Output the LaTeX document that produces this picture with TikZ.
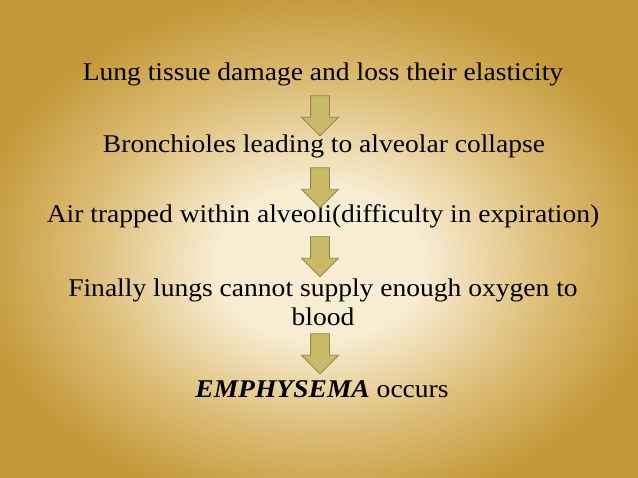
\documentclass[tikz,border=0pt]{standalone}
\usepackage{fontspec}
\setmainfont[FakeStretch=1.08]{Liberation Serif}
\usetikzlibrary{shapes.arrows}
\definecolor{cream}{HTML}{F8EDD3}
\definecolor{midgold}{HTML}{DDBE78}
\definecolor{edgegold}{HTML}{C4993A}
\definecolor{arrowfill}{HTML}{C9BA68}
\definecolor{arrowdraw}{HTML}{8E8A45}
\pgfdeclareradialshading{bgshade}{\pgfpoint{0bp}{-3bp}}{%
  color(0bp)=(cream);
  color(8bp)=(cream);
  color(18bp)=(midgold);
  color(27bp)=(edgegold);
  color(50bp)=(edgegold)}
\tikzset{
  txt/.style={font=\fontsize{25.5}{29}\selectfont, text=black, align=center, inner sep=0pt, anchor=base},
  downarrow/.style={single arrow, shape border rotate=270, fill=arrowfill, draw=arrowdraw,
    line width=0.8pt, minimum width=36pt, single arrow head extend=9pt,
    single arrow tip angle=90, minimum height=40pt, inner sep=0pt, text width=18pt}
}
\begin{document}
\begin{tikzpicture}[x=1pt,y=-1pt]
\useasboundingbox (0,0) rectangle (638,478);
\shade[shading=bgshade] (0,0) rectangle (638,478);
\node[txt] (t1) at (323,81) {Lung tissue damage and loss their elasticity};
\node[txt] (t2) at (324,153) {Bronchioles leading to alveolar collapse};
\node[txt] (t3) at (323,223) {Air trapped within alveoli(difficulty in expiration)};
\node[txt] (t4) at (323,326) {Finally lungs cannot supply enough oxygen to\\blood};
\node[txt] (t5) at (322,398) {\textbf{\textit{EMPHYSEMA}} occurs};
\node[downarrow] (a1) at (320,111) {};
\node[downarrow] (a2) at (320,183) {};
\node[downarrow] (a3) at (320,252) {};
\node[downarrow] (a4) at (320,349) {};
\end{tikzpicture}
\end{document}
